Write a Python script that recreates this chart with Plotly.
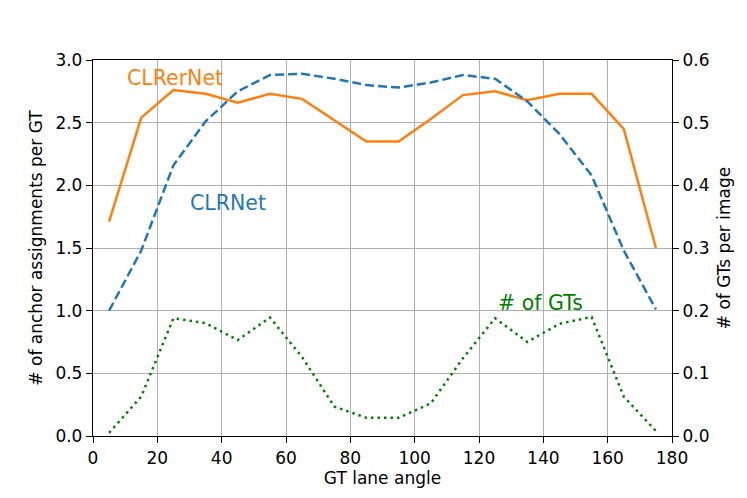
import plotly.graph_objects as go

angles = [5, 15, 25, 35, 45, 55, 65, 75, 85, 95, 105, 115, 125, 135, 145, 155, 165, 175]
clrernet = [1.71, 2.54, 2.76, 2.73, 2.66, 2.73, 2.69, 2.52, 2.35, 2.35, 2.53, 2.72, 2.75, 2.68, 2.73, 2.73, 2.45, 1.50]
clrnet = [1.00, 1.48, 2.16, 2.51, 2.75, 2.88, 2.89, 2.85, 2.80, 2.78, 2.82, 2.88, 2.85, 2.67, 2.41, 2.08, 1.48, 1.01]
num_gts = [0.005, 0.063, 0.188, 0.180, 0.153, 0.189, 0.126, 0.047, 0.029, 0.029, 0.052, 0.124, 0.188, 0.150, 0.179, 0.190, 0.063, 0.008]

x_ticks = [0, 20, 40, 60, 80, 100, 120, 140, 160, 180]
left_ticks = [0.0, 0.5, 1.0, 1.5, 2.0, 2.5, 3.0]
right_ticks = [0.0, 0.1, 0.2, 0.3, 0.4, 0.5, 0.6]

FONT = "DejaVu Sans"

fig = go.Figure()
fig.add_trace(go.Scatter(
    x=angles, y=clrernet, mode='lines', name='CLRerNet',
    line={'color': '#ff7f0e', 'width': 2.5}
))
fig.add_trace(go.Scatter(
    x=angles, y=clrnet, mode='lines', name='CLRNet',
    line={'color': '#1f77b4', 'width': 2.5, 'dash': '9px,4px'}
))
fig.add_trace(go.Scatter(
    x=angles, y=num_gts, mode='lines', name='# of GTs', yaxis='y2',
    line={'color': 'green', 'width': 2.5, 'dash': '2.5px,4px'}
))

ann_font = {'family': FONT, 'size': 20.5}
fig.add_annotation(x=25.4, y=2.86, text='CLRerNet', showarrow=False,
                   font={**ann_font, 'color': '#ff7f0e'})
fig.add_annotation(x=42.0, y=1.86, text='CLRNet', showarrow=False,
                   font={**ann_font, 'color': '#1f77b4'})
fig.add_annotation(x=139.1, y=1.06, text='# of GTs', showarrow=False,
                   font={**ann_font, 'color': 'green'})

axis_common = dict(
    showline=True, linecolor='black', linewidth=1.3,
    ticks='outside', ticklen=6, tickwidth=1.3, tickcolor='black',
    tickfont={'family': FONT, 'size': 17, 'color': 'black'},
    zeroline=False,
)

# the page body has an 8px margin, so the plot is shifted by that much
fig.update_layout(
    width=747, height=498,
    margin={'l': 85, 'r': 83, 't': 52, 'b': 70},
    paper_bgcolor='white', plot_bgcolor='white',
    showlegend=False,
    font={'family': FONT, 'size': 17, 'color': 'black'},
    xaxis=dict(
        **axis_common, range=[0, 180], tickvals=x_ticks, mirror=True,
        showgrid=True, gridcolor='#b0b0b0', gridwidth=1.1,
        title={'text': 'GT lane angle', 'font': {'family': FONT, 'size': 17}, 'standoff': 3},
    ),
    yaxis=dict(
        **axis_common, range=[0, 3], tickvals=left_ticks, tickformat='.1f',
        showgrid=True, gridcolor='#b0b0b0', gridwidth=1.1,
        title={'text': '# of anchor assignments per GT', 'font': {'family': FONT, 'size': 17}, 'standoff': 8},
    ),
    yaxis2=dict(
        **axis_common, range=[0, 0.6], tickvals=right_ticks, tickformat='.1f',
        overlaying='y', side='right', showgrid=False,
        title={'text': '# of GTs per image', 'font': {'family': FONT, 'size': 17}, 'standoff': 9},
    ),
)

fig.write_html("out.html")
